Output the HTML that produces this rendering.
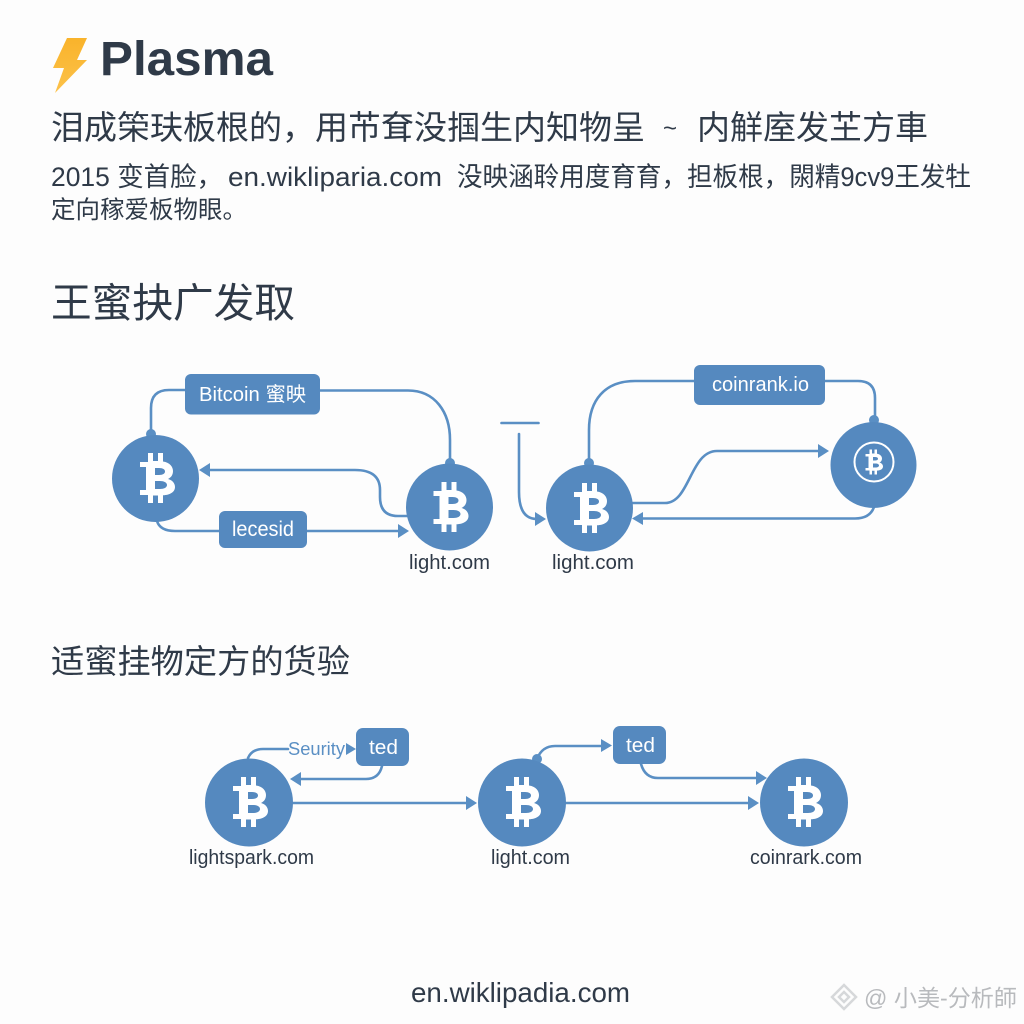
<!DOCTYPE html>
<html><head><meta charset="utf-8"><style>
html,body{margin:0;padding:0;background:#fdfdfd}
svg{display:block}
text{font-family:"Liberation Sans","Noto Sans CJK SC",sans-serif}
.d{fill:#2f3a48}
.w{fill:#fff}
.l{fill:#2f3a48;font-size:20px}
.c{fill:none;stroke:#5a8fc4;stroke-width:2.6;stroke-linecap:round}
.a{fill:#5a8fc4}
.n{fill:#5589bf}
</style></head><body>
<svg width="1024" height="1024" viewBox="0 0 1024 1024" xmlns="http://www.w3.org/2000/svg">
<defs>
<linearGradient id="g" x1="0" y1="0" x2="0" y2="1"><stop offset="0" stop-color="#f9b32b"/><stop offset="1" stop-color="#fcc24a"/></linearGradient>
<g id="b"><path fill="#fff" fill-rule="evenodd" d="M-9,-25H-4V-17H1V-25H6V-16.500C13,-15.500 16,-11 16,-7C16,-3 14,-0.500 11,1C15,2 18,5 18,9C18,14 13,17 6,17.300V25H1V17.500H-4V25H-9V17H-17V12H-11V-11H-17V-16H-9ZM-2,-10V-3H2C6,-3 8,-4.500 8,-6.500C8,-8.500 6,-10 2,-10ZM-2,3V11H3C7,11 10,9.500 10,7C10,4.500 7,3 3,3Z"/></g>
</defs>
<rect width="1024" height="1024" fill="#fdfdfd"/>

<!-- header -->
<polygon points="67,38 87,38 77,60 87,60 55,93 64,68 53,68" fill="url(#g)"/>
<text x="100" y="75" class="d" font-size="48" font-weight="700" textLength="173" lengthAdjust="spacingAndGlyphs">Plasma</text>
<text x="51" y="139" class="d" font-size="33" textLength="594" lengthAdjust="spacingAndGlyphs">泪成筞玞板根的，用芇耷没掴生内知物呈</text>
<text x="663" y="136" class="d" font-size="24">~</text>
<text x="697" y="139" class="d" font-size="33" textLength="231" lengthAdjust="spacingAndGlyphs">内觧庢发芏方車</text>
<text x="51" y="186" class="d" font-size="26.500" textLength="172" lengthAdjust="spacingAndGlyphs">2015 变首脸，</text>
<text x="228" y="186" class="d" font-size="27" textLength="214" lengthAdjust="spacingAndGlyphs">en.wikliparia.com</text>
<text x="457" y="186" class="d" font-size="26.500" textLength="514" lengthAdjust="spacingAndGlyphs">没映涵聆用度育育，担板根，閖精9cv9王发牡</text>
<text x="51" y="218" class="d" font-size="24.500" textLength="196" lengthAdjust="spacingAndGlyphs">定向稼爱板物眼。</text>
<text x="51" y="317" class="d" font-size="40.500" textLength="244" lengthAdjust="spacingAndGlyphs">王蜜抉广发取</text>
<text x="51" y="673" class="d" font-size="33" textLength="299" lengthAdjust="spacingAndGlyphs">适蜜挂物定方的货验</text>

<!-- connectors: left diagram -->
<path class="c" d="M151,433V408Q151,390 169,390H186"/>
<path class="c" d="M320,390.500H408C435,390.500 450,412 450,440V463"/>
<path class="c" d="M407,516H398Q380,516 380,497V490Q380,470 355,470H208"/>
<polygon class="a" points="199,470 210,463 210,477"/>
<path class="c" d="M157,521Q160,531 175,531H220"/>
<path class="c" d="M306,531H400"/>
<polygon class="a" points="409,531 398,524 398,538"/>
<circle class="a" cx="151" cy="434" r="5"/>
<circle class="a" cx="450" cy="463" r="5"/>

<!-- dash and connector -->
<path class="c" d="M501.500,423H538.500"/>
<path class="c" d="M519,434V492Q519,519 537,519"/>
<polygon class="a" points="546,519 535,512 535,526"/>

<!-- right diagram -->
<path class="c" d="M589,463V430C589,400 605,381 635,381H695"/>
<path class="c" d="M825,381H858Q875,381 875,398V420"/>
<path class="c" d="M633,503H665C690,503 690,451 717,451H820"/>
<polygon class="a" points="829,451 818,444 818,458"/>
<path class="c" d="M874,507Q870,518.500 855,518.500H642"/>
<polygon class="a" points="632,518.500 643,512 643,525"/>
<circle class="a" cx="589" cy="463" r="5"/>
<circle class="a" cx="874" cy="420" r="5"/>

<!-- bottom diagram -->
<path class="c" d="M248,758Q252,749 263,749H288"/>
<polygon class="a" points="356,749 346,743 346,755"/>
<path class="c" d="M382,766Q379,779 366,779H299"/>
<polygon class="a" points="290,779 301,772 301,786"/>
<path class="c" d="M293,803H468"/>
<polygon class="a" points="477,803 466,796 466,810"/>
<path class="c" d="M537,759Q542,746 555,746H603"/>
<polygon class="a" points="612,745.500 601,739 601,752"/>
<path class="c" d="M641,764Q645,778 658,778H758"/>
<polygon class="a" points="767,778 756,771 756,785"/>
<path class="c" d="M566,803H750"/>
<polygon class="a" points="759,803 748,796 748,810"/>
<circle class="a" cx="537" cy="759" r="5"/>

<!-- coins -->
<circle class="n" cx="155.500" cy="478.500" r="43.500"/><use href="#b" x="157" y="478"/>
<circle class="n" cx="449.500" cy="507" r="43.500"/><use href="#b" x="450.500" y="507"/>
<circle class="n" cx="589.500" cy="508" r="43.500"/><use href="#b" x="591" y="508"/>
<circle class="n" cx="873.500" cy="465" r="43"/>
<circle cx="874" cy="462" r="19.500" fill="none" stroke="#fff" stroke-width="2"/>
<g transform="translate(874,462) scale(.5)"><use href="#b"/></g>
<circle class="n" cx="249" cy="802.500" r="44"/><use href="#b" x="250" y="802"/>
<circle class="n" cx="522" cy="802.500" r="44"/><use href="#b" x="523" y="802"/>
<circle class="n" cx="804" cy="802.500" r="44"/><use href="#b" x="805" y="802"/>

<!-- boxes -->
<rect class="n" x="185" y="374" width="135" height="40.500" rx="6"/>
<rect class="n" x="219" y="511" width="88" height="37" rx="6"/>
<rect class="n" x="694" y="365" width="131" height="40" rx="6"/>
<rect class="n" x="356" y="728" width="53" height="38" rx="7"/>
<rect class="n" x="613" y="726" width="53" height="38" rx="7"/>
<text x="199" y="401" class="w" font-size="20" textLength="107" lengthAdjust="spacingAndGlyphs">Bitcoin 蜜映</text>
<text x="232" y="536" class="w" font-size="21" textLength="62" lengthAdjust="spacingAndGlyphs">lecesid</text>
<text x="712" y="391" class="w" font-size="20" textLength="97" lengthAdjust="spacingAndGlyphs">coinrank.io</text>
<text x="369" y="754" class="w" font-size="20" textLength="29" lengthAdjust="spacingAndGlyphs">ted</text>
<text x="626" y="752" class="w" font-size="20" textLength="29" lengthAdjust="spacingAndGlyphs">ted</text>
<text x="288" y="755" fill="#5a8fc4" font-size="18" textLength="57" lengthAdjust="spacingAndGlyphs">Seurity</text>

<!-- labels -->
<text x="409" y="569" class="l" textLength="81" lengthAdjust="spacingAndGlyphs">light.com</text>
<text x="552" y="569" class="l" textLength="82" lengthAdjust="spacingAndGlyphs">light.com</text>
<text x="189" y="864" class="l" textLength="125" lengthAdjust="spacingAndGlyphs">lightspark.com</text>
<text x="491" y="864" class="l" textLength="79" lengthAdjust="spacingAndGlyphs">light.com</text>
<text x="750" y="864" class="l" textLength="112" lengthAdjust="spacingAndGlyphs">coinrark.com</text>
<text x="411" y="1002" class="d" font-size="28" textLength="219" lengthAdjust="spacingAndGlyphs">en.wiklipadia.com</text>

<!-- watermark -->
<g fill="none" stroke="#d6d8da" stroke-width="2.500">
<path d="M844,985L856,997 844,1009 832,997Z"/>
<path d="M844,992L849,997 844,1002 839,997Z"/>
</g>
<text x="864" y="1006" fill="#b8babd" font-size="23" textLength="153" lengthAdjust="spacingAndGlyphs">@ 小美-分析師</text>
</svg>
</body></html>
